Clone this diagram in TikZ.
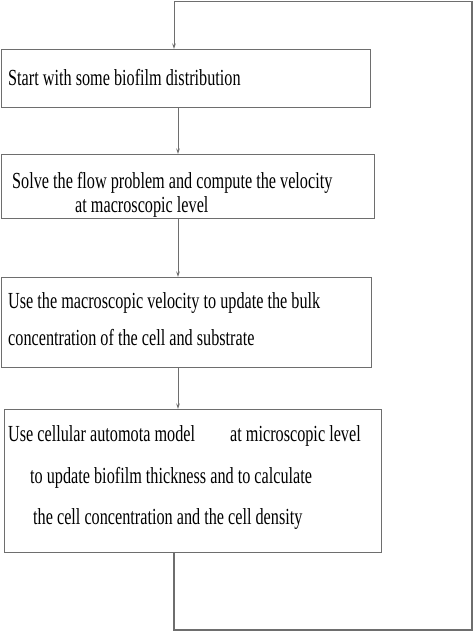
\documentclass[tikz,border=0pt]{standalone}
\usepackage{fontspec}
\setmainfont{Liberation Serif}[FakeStretch=0.705]
\usetikzlibrary{arrows.meta}
\definecolor{linegray}{HTML}{6E6E6E}
\tikzset{
  box/.style={draw=linegray, line width=0.9pt, anchor=north west, inner sep=0pt},
  txt/.style={anchor=base west, inner sep=0pt, font=\fontsize{23}{26}\selectfont},
  arr/.style={draw=linegray, line width=0.8pt, -{Stealth[length=5.5pt,width=3.5pt]}},
  loopline/.style={draw=linegray, line width=1.2pt}
}
\begin{document}
\begin{tikzpicture}[x=1pt,y=-1pt]
\useasboundingbox (0,0) rectangle (474,632);
% boxes
\node[box, minimum width=369pt, minimum height=58pt] (b1) at (0.5,49) {};
\node[box, minimum width=373pt, minimum height=64pt] (b2) at (0.5,154) {};
\node[box, minimum width=370pt, minimum height=90pt] (b3) at (0.5,277) {};
\node[box, minimum width=377pt, minimum height=143pt] (b4) at (4,409) {};
% texts
\node[txt] (t1) at (8,85) {Start with some biofilm distribution};
\node[txt] (t2a) at (12,188) {Solve the flow problem and compute the velocity};
\node[txt] (t2b) at (75,212) {at macroscopic level};
\node[txt] (t3a) at (8,308) {Use the macroscopic velocity to update the bulk};
\node[txt] (t3b) at (8,345) {concentration of the cell and substrate};
\node[txt] (t4a) at (8,441) {Use cellular automota model};
\node[txt] (t4b) at (230,441) {at microscopic level};
\node[txt] (t4c) at (30,483) {to update biofilm thickness and to calculate};
\node[txt] (t4d) at (33,524) {the cell concentration and the cell density};
% connectors
\coordinate (ax) at (178,0);
\coordinate (lx) at (174,0);
\coordinate (cbr) at (472,630);
\coordinate (ctl) at (174,1.5);
\draw[arr] (b1.south -| ax) -- (b2.north -| ax);
\draw[arr] (b2.south -| ax) -- (b3.north -| ax);
\draw[arr] (b3.south -| ax) -- (b4.north -| ax);
\draw[loopline] (b4.south -| lx) |- (cbr) |- (ctl);
\draw[arr] (ctl) -- (b1.north -| lx);
\end{tikzpicture}
\end{document}
